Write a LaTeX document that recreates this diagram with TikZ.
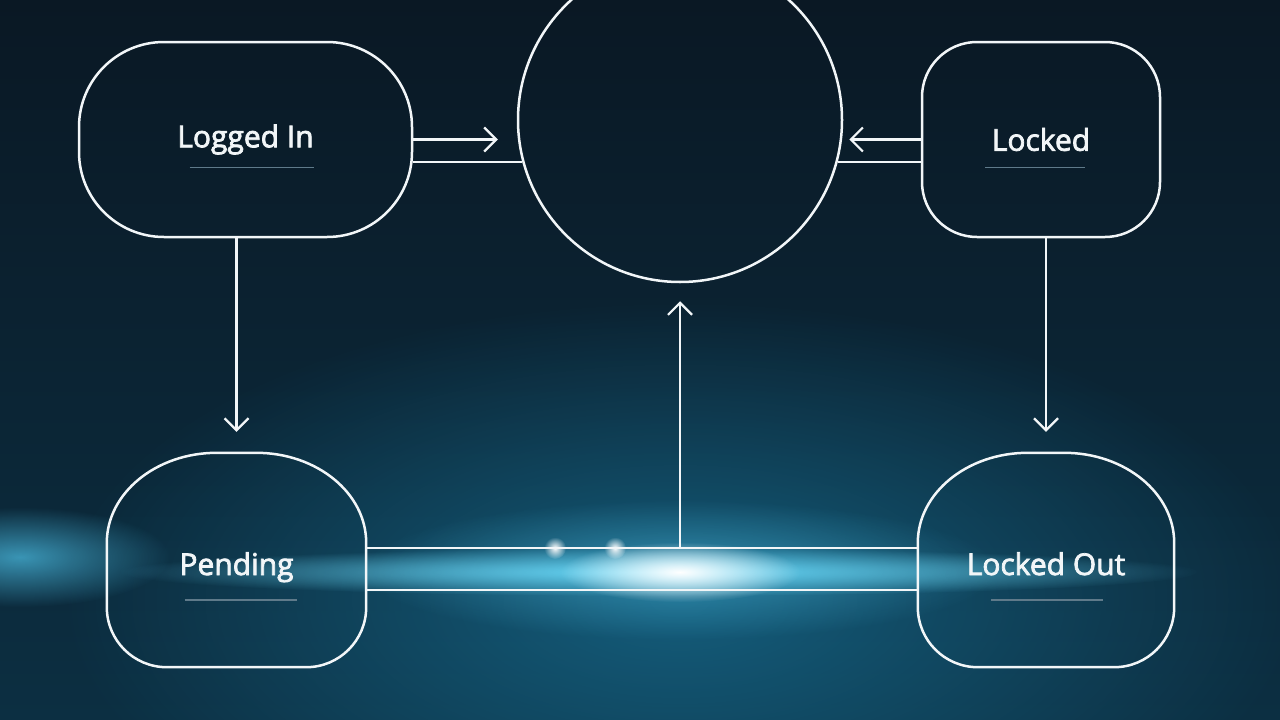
\documentclass[tikz,border=0pt]{standalone}
\usepackage{fontspec}
\setmainfont{Open Sans}
\newfontfamily\statefont{Open Sans}[FakeBold=2.5]
\usetikzlibrary{arrows.meta,fadings,positioning}

\definecolor{bgtop}{HTML}{0A1824}
\definecolor{bgbot}{HTML}{0C2F42}
\definecolor{glow}{HTML}{1A7FA6}
\definecolor{streak}{HTML}{6FE0FF}
\definecolor{ink}{HTML}{F2F6F8}
\definecolor{rulecol}{HTML}{5F7A8A}

\tikzfading[name=softglow, inner color=transparent!0, outer color=transparent!100]

\tikzset{
  stateline/.style={draw=ink, line width=2.5pt},
  statetext/.style={text=ink, font=\statefont\fontsize{30}{36}\selectfont},
  link/.style={draw=ink, line width=2.2pt},
  flow/.style={link, -{Straight Barb[length=12pt,width=24pt,line width=2.2pt]}},
  underrule/.style={draw=rulecol, line width=1.6pt}
}

% dome outline round a named node (big top corners, small bottom ones)
\newcommand\domeline[1]{%
  \draw[stateline] ([yshift=60pt]#1.south west) -- ([yshift=-90pt]#1.north west)
    arc[start angle=180, end angle=90, x radius=110, y radius=90]
    -- ([xshift=-110pt]#1.north east)
    arc[start angle=90, end angle=0, x radius=110, y radius=90]
    -- ([yshift=60pt]#1.south east)
    arc[start angle=0, end angle=-90, radius=60]
    -- ([xshift=60pt]#1.south west)
    arc[start angle=-90, end angle=-180, radius=60] -- cycle;}
% short rule under a state name
\newcommand\namerule[4]{%
  \draw[underrule] ([shift={(#2-#4,#3)}]#1.center) -- ([shift={(#2+#4,#3)}]#1.center);}

\begin{document}
\begin{tikzpicture}[x=1pt,y=1pt]
  \useasboundingbox (0,0) rectangle (1280,-720);
  \clip (0,0) rectangle (1280,-720);
  % backdrop and glow
  \shade[top color=bgtop, bottom color=bgbot] (0,0) rectangle (1280,-720);
  \fill[glow, opacity=0.6, path fading=softglow] (680,-600) ellipse (620 and 300);
  \fill[glow!50!streak, opacity=0.8, path fading=softglow] (20,-557) ellipse (150 and 50);
  \fill[glow!50!streak, opacity=0.6, path fading=softglow] (680,-570) ellipse (320 and 70);
  \fill[streak, opacity=0.9, path fading=softglow] (660,-572) ellipse (540 and 24);
  \fill[white, path fading=softglow] (680,-572) ellipse (120 and 30);
  \fill[white, path fading=softglow] (555,-548) circle (11);
  \fill[white, path fading=softglow] (615,-548) circle (11);

  % states
  \node[stateline, circle, minimum size=324pt] (hub) at (680,-120) {};
  \node[stateline, statetext, rounded corners=85pt, minimum width=333pt, minimum height=195pt] (li) at (245.5,-139.5) {Logged In};
  \node[stateline, statetext, rounded corners=55pt, minimum width=238pt, minimum height=195pt] (lk) at (1041,-139.5) {Locked};
  \node[statetext, minimum width=259pt, minimum height=214pt, text height=37pt, text depth=7pt] (pend) at (236.5,-560) {Pending};
  \node[statetext, minimum width=256pt, minimum height=214pt, text height=37pt, text depth=7pt] (lo) at (1046,-560) {Locked Out};
  \domeline{pend}
  \domeline{lo}
  \namerule{li}{6}{-28}{62}
  \namerule{lk}{-6}{-28}{50}
  \namerule{pend}{4}{-40}{56}
  \namerule{lo}{1}{-40}{56}

  % into the hub
  \draw[flow] (li.east) -- ([xshift=-19pt]hub.west |- li.east);
  \draw[link] (li.east |- hub.195) -- (hub.195);
  \draw[flow] (lk.west) -- ([xshift=6pt]hub.east |- lk.west);
  \draw[link] (lk.west |- hub.-15) -- (hub.-15);
  % down to the lower states
  \draw[flow] (li.south -| pend.north) -- ([yshift=21pt]pend.north);
  \draw[flow] (lk.south -| lo.north) -- ([yshift=21pt]lo.north);
  % bottom bus and riser
  \coordinate (busA) at ([yshift=12pt]pend.east);
  \coordinate (busB) at ([yshift=-30pt]pend.east);
  \draw[link] (busA) -- (busA -| lo.west);
  \draw[link] (busB) -- (busB -| lo.west);
  \draw[flow] (hub.south |- busA) -- ([yshift=-18pt]hub.south);
\end{tikzpicture}
\end{document}
